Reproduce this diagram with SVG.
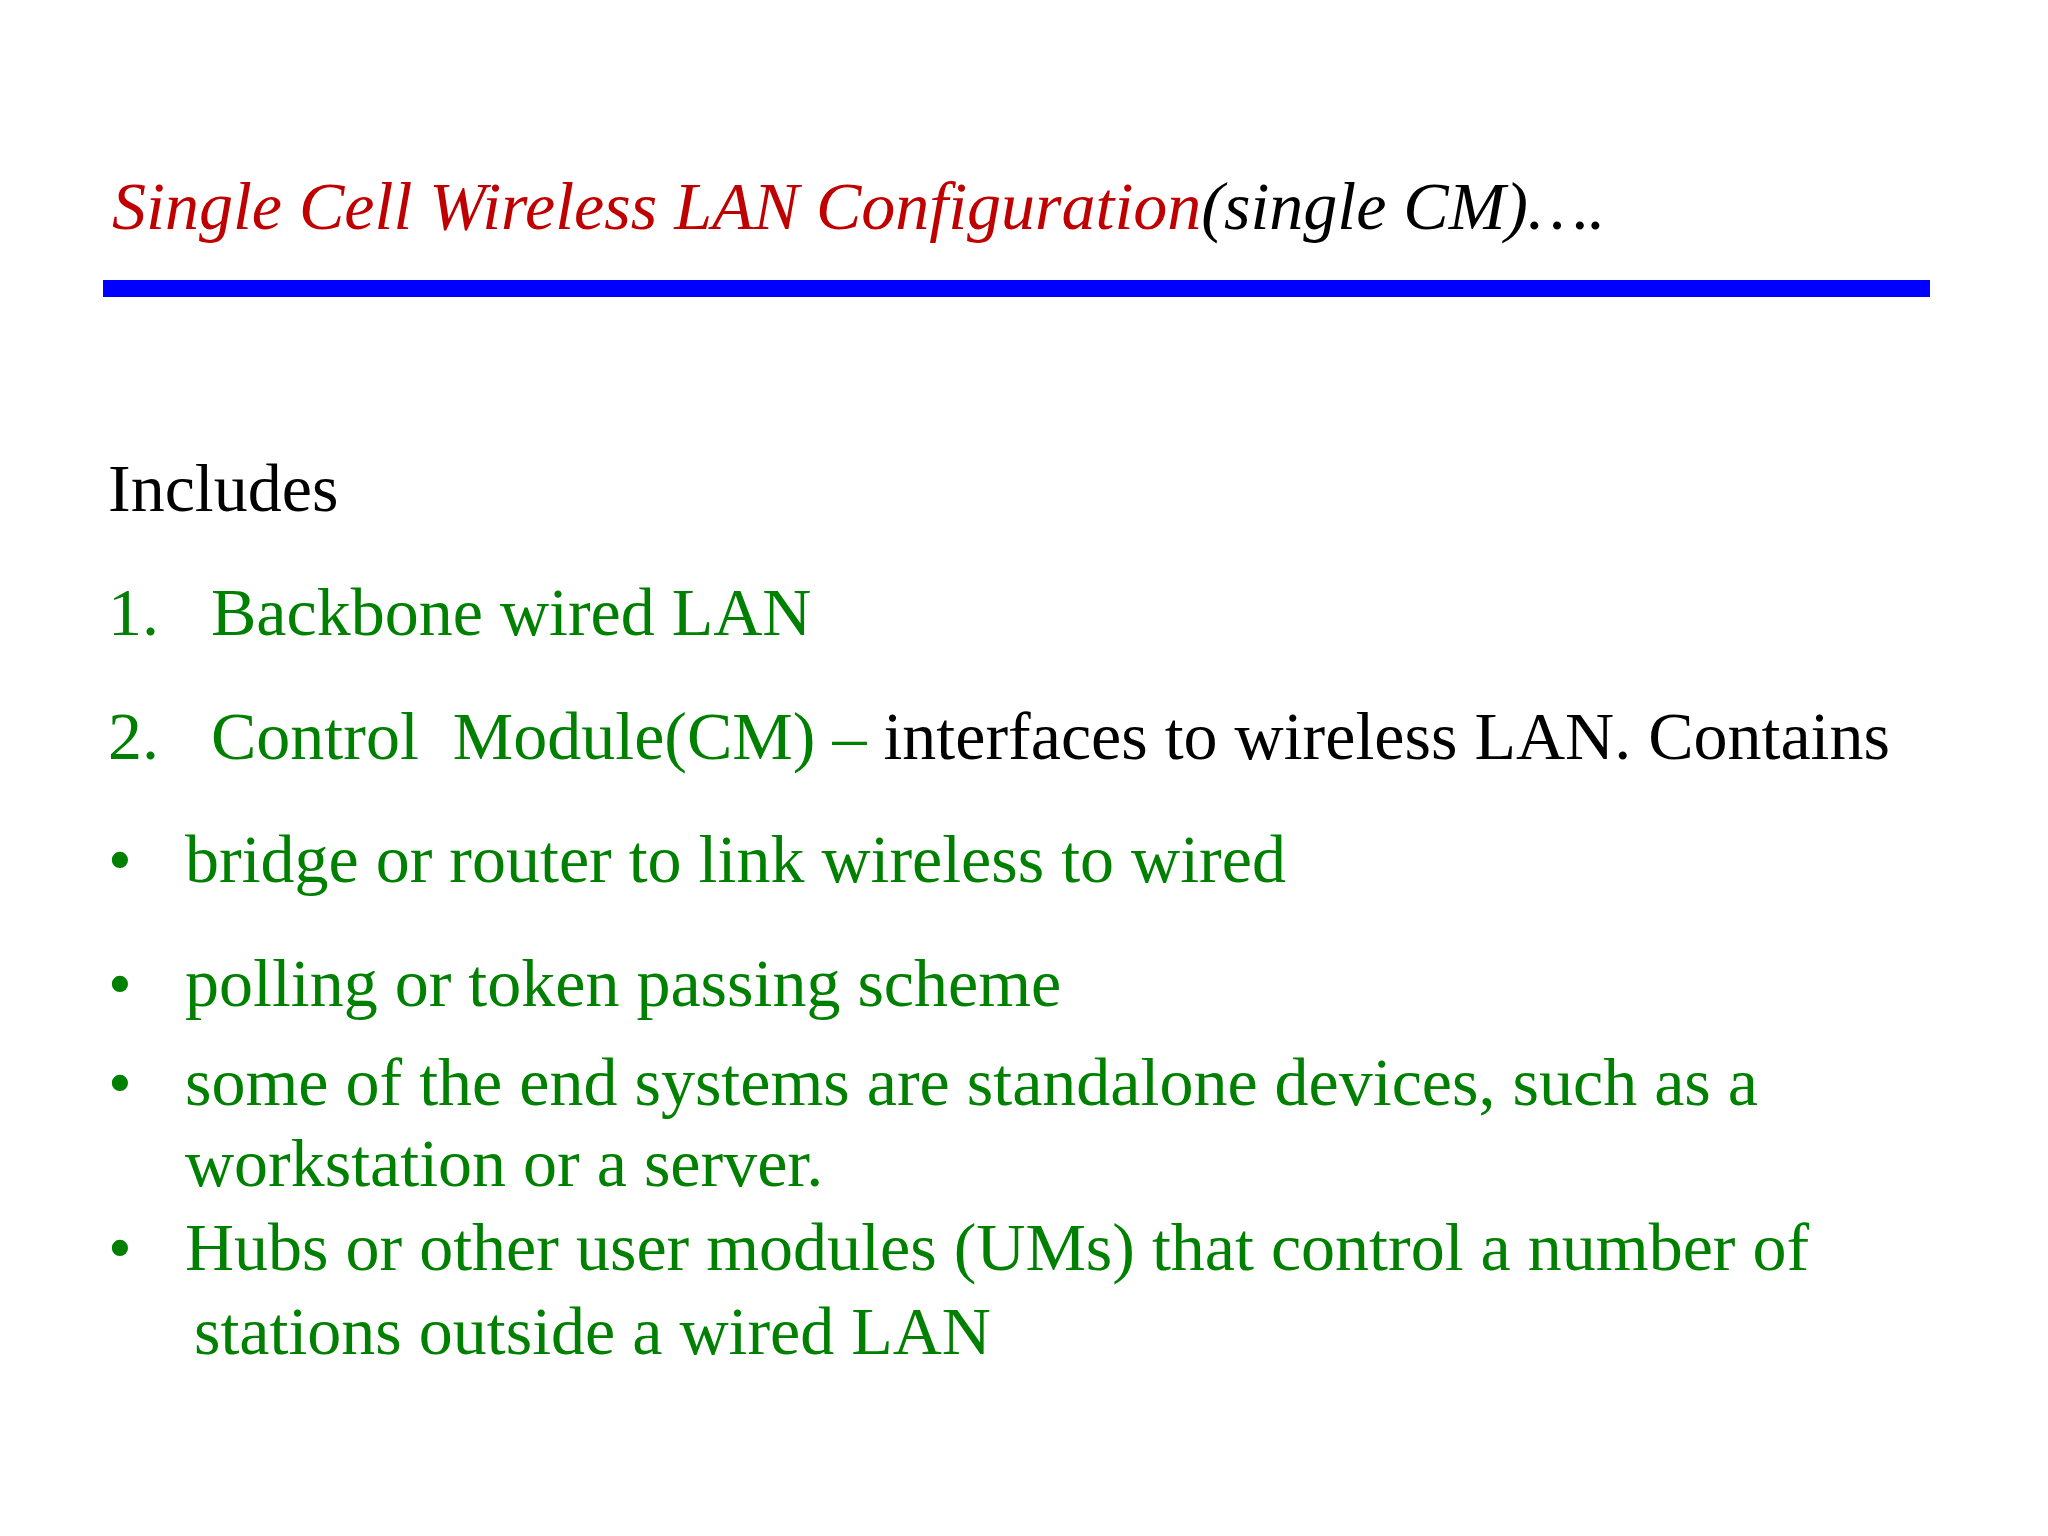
<svg xmlns="http://www.w3.org/2000/svg" width="2048" height="1536" viewBox="0 0 2048 1536">
<style>
text{font-family:"Liberation Serif","Times New Roman",serif}
.b{font-size:68px;fill:#008000}
</style>
<rect width="2048" height="1536" fill="#fff"/>
<g id="title">
<text x="112" y="229" font-size="68" font-style="italic" fill="#c00000">Single Cell Wireless LAN Configuration<tspan fill="#000">(single CM)….</tspan></text>
<rect x="103" y="280" width="1827" height="17" fill="#0000ff"/>
</g>
<g id="body">
<text x="108" y="511" class="b" style="fill:#000">Includes</text>
<text x="108" y="635" class="b">1.</text><text x="211" y="635" class="b">Backbone wired LAN</text>
<text x="108" y="759" class="b">2.</text><text x="211" y="759" class="b" xml:space="preserve">Control  Module(CM) – <tspan fill="#000">interfaces to wireless LAN. Contains</tspan></text>
<text x="108" y="882" class="b">•</text><text x="185" y="882" class="b">bridge or router to link wireless to wired</text>
<text x="108" y="1006" class="b">•</text><text x="185" y="1006" class="b">polling or token passing scheme</text>
<text x="108" y="1105" class="b">•</text><text x="185" y="1105" class="b">some of the end systems are standalone devices, such as a</text>
<text x="185" y="1186" class="b">workstation or a server.</text>
<text x="108" y="1270" class="b">•</text><text x="185" y="1270" class="b">Hubs or other user modules (UMs) that control a number of</text>
<text x="194" y="1354" class="b">stations outside a wired LAN</text>
</g>
</svg>
